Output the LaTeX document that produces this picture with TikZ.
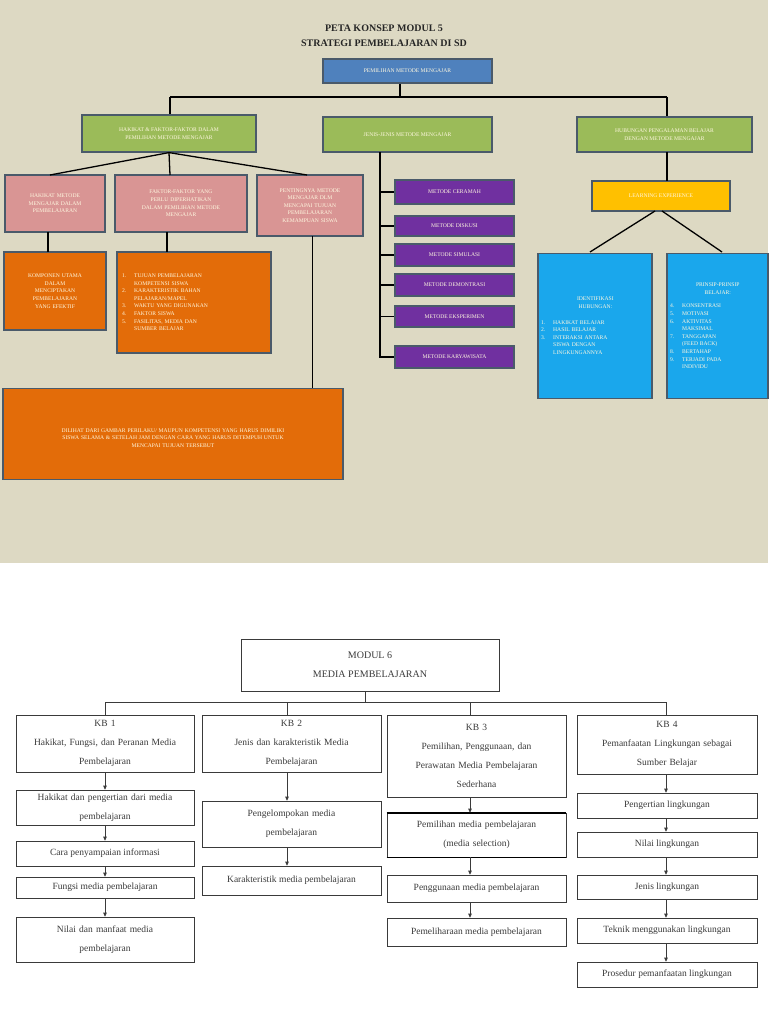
\documentclass[tikz,border=0pt]{standalone}
\usepackage{fontspec}
\setmainfont{Liberation Serif}
\usetikzlibrary{arrows.meta}
\definecolor{bgc}{HTML}{DDD9C3}
\definecolor{bluebox}{HTML}{4F81BD}
\definecolor{greenbox}{HTML}{9BBB59}
\definecolor{pinkbox}{HTML}{D99594}
\definecolor{orangebox}{HTML}{E36C09}
\definecolor{purplebox}{HTML}{7030A0}
\definecolor{yellowbox}{HTML}{FFC000}
\definecolor{cyanbox}{HTML}{1AA7EC}
\definecolor{edgec}{HTML}{4A5A6A}
\definecolor{txt}{HTML}{FFF8E0}
\definecolor{gtxt}{HTML}{3A3A3A}
\tikzset{
  cbox/.style={draw=edgec, line width=1.2pt, inner sep=2pt, text=txt, font=\fontsize{5.6}{7.6}\selectfont, align=center},
  wbox/.style={draw=gtxt, line width=0.6pt, fill=white, inner sep=2pt, text=gtxt, font=\fontsize{9.5}{19}\selectfont, align=center},
  conn/.style={line width=1.3pt, black},
  thin/.style={line width=0.7pt, gtxt},
  arr/.style={thin, -{Triangle[length=4pt,width=3.5pt]}}
}
\begin{document}
\begin{tikzpicture}[x=1pt,y=-1pt]
\useasboundingbox (0,0) rectangle (768,1024);
\fill[white] (0,0) rectangle (768,1024);
\fill[bgc] (0,0) rectangle (768,563);
% title
\node[font=\bfseries\fontsize{10}{15}\selectfont, align=center, text=black!85] (title) at (384,36) {PETA KONSEP MODUL 5\\STRATEGI PEMBELAJARAN DI SD};
% top-level
\node[cbox, fill=bluebox, minimum width=169, minimum height=24] (root) at (407.5,71) {PEMILIHAN METODE MENGAJAR};
\node[cbox, fill=greenbox, minimum width=174, minimum height=37] (g1) at (169,133.5) {HAKIKAT \& FAKTOR-FAKTOR DALAM\\PEMILIHAN METODE MENGAJAR};
\node[cbox, fill=greenbox, minimum width=169, minimum height=35] (g2) at (407.5,134.5) {JENIS-JENIS METODE MENGAJAR};
\node[cbox, fill=greenbox, minimum width=175, minimum height=35] (g3) at (664.5,134.5) {HUBUNGAN PENGALAMAN BELAJAR\\DENGAN METODE MENGAJAR};
\coordinate (h) at (400,97);
\draw[conn] (root.south -| h) -- (h);
\draw[conn] (170,97) -- (667,97);
\draw[conn] (170,97) -- (g1.north -| 170,0);
\draw[conn] (667,97) -- (g3.north -| 667,0);
% pink
\node[cbox, fill=pinkbox, minimum width=100, minimum height=57, text width=90] (p1) at (55,203.5) {HAKIKAT METODE\\MENGAJAR DALAM\\PEMBELAJARAN};
\node[cbox, fill=pinkbox, minimum width=132, minimum height=57, text width=122] (p2) at (181,203.5) {FAKTOR-FAKTOR YANG\\PERLU DIPERHATIKAN\\DALAM PEMILIHAN METODE\\MENGAJAR};
\node[cbox, fill=pinkbox, minimum width=106, minimum height=61, text width=100] (p3) at (310,205.5) {PENTINGNYA METODE\\MENGAJAR DLM\\MENCAPAI TUJUAN\\PEMBELAJARAN\\KEMAMPUAN SISWA};
\draw[conn] (g1.south) -- (50,175);
\draw[conn] (g1.south) -- (170,175);
\draw[conn] (g1.south) -- (307,175);
% orange
\node[cbox, fill=orangebox, minimum width=102, minimum height=78, text width=92] (o1) at (55,291) {KOMPONEN UTAMA\\DALAM\\MENCIPTAKAN\\PEMBELAJARAN\\YANG EFEKTIF};
\node[cbox, fill=orangebox, minimum width=154, minimum height=101, align=left, text width=144] (o2) at (194,302.5) {\begin{tabular}{@{}l@{\hspace{8pt}}l@{}}
1.&TUJUAN PEMBELAJARAN\\&KOMPETENSI SISWA\\2.&KARAKTERISTIK BAHAN\\&PELAJARAN/MAPEL\\3.&WAKTU YANG DIGUNAKAN\\4.&FAKTOR SISWA\\5.&FASILITAS, MEDIA DAN\\&SUMBER BELAJAR\end{tabular}};
\draw[conn] (48,232) -- (48,252);
\draw[conn] (167,232) -- (167,252);
\node[cbox, fill=orangebox, minimum width=340, minimum height=91, text width=325, anchor=north] (o3) at (173,388) {\\[4pt]DILIHAT DARI GAMBAR PERILAKU/ MAUPUN KOMPETENSI YANG HARUS DIMILIKI\\SISWA SELAMA \& SETELAH JAM DENGAN CARA YANG HARUS DITEMPUH UNTUK\\MENCAPAI TUJUAN TERSEBUT\\[22pt]};
\draw[line width=0.8pt] (312,236) -- (312,388);
% purple
\foreach \n/\y/\hh/\t in {c1/192/24/METODE CERAMAH, c2/226/20/METODE DISKUSI, c3/255/22/METODE SIMULASI, c4/285/22/METODE DEMONTRASI, c5/316.5/21/METODE EKSPERIMEN, c6/357/22/METODE KARYAWISATA}{
  \node[cbox, fill=purplebox, minimum width=119, minimum height=\hh] (\n) at (454.5,\y) {\t};
  \draw[conn] (380,\y) -- (\n.west);
}
\draw[conn] (380,152) -- (380,358);
% right
\node[cbox, fill=yellowbox, minimum width=138, minimum height=30] (y1) at (661,196) {LEARNING EXPERIENCE};
\draw[conn] (667,152) -- (667,181);
\node[cbox, fill=cyanbox, minimum width=114, minimum height=145, anchor=north, align=left, text width=108] (b1) at (595,253) {\begin{tabular}{@{}l@{\hspace{8pt}}l@{}}
\multicolumn{2}{c}{\hspace{30pt}IDENTIFIKASI}\\\multicolumn{2}{c}{\hspace{30pt}HUBUNGAN:}\\[8pt]
1.&HAKIKAT BELAJAR\\2.&HASIL BELAJAR\\3.&INTERAKSI ANTARA\\&SISWA DENGAN\\&LINGKUNGANNYA\end{tabular}\\[22pt]};
\node[cbox, fill=cyanbox, minimum width=101, minimum height=145, anchor=north, align=left, text width=95] (b2) at (717.5,253) {\begin{tabular}{@{}l@{\hspace{8pt}}l@{}}
\multicolumn{2}{c}{\hspace{20pt}PRINSIP-PRINSIP}\\\multicolumn{2}{c}{\hspace{20pt}BELAJAR:}\\[6pt]
4.&KONSENTRASI\\5.&MOTIVASI\\6.&AKTIVITAS\\&MAKSIMAL\\7.&TANGGAPAN\\&(FEED BACK)\\8.&BERTAHAP\\9.&TERJADI PADA\\&INDIVIDU\end{tabular}};
\draw[conn] (655,211) -- (590,252);
\draw[conn] (662,211) -- (722,252);
% ---------- bottom ----------
\node[wbox, minimum width=258, minimum height=52, font=\fontsize{10}{19}\selectfont] (m6) at (370,665) {MODUL 6\\MEDIA  PEMBELAJARAN};
\draw[thin] (365,691) -- (365,702);
\draw[thin] (105,702) -- (666,702);
\node[wbox, minimum width=178, minimum height=57, text width=172] (k1) at (105,743.5) {KB 1\\Hakikat, Fungsi, dan Peranan Media\\Pembelajaran};
\node[wbox, minimum width=179, minimum height=57, text width=172] (k2) at (291.5,743.5) {KB 2\\Jenis dan karakteristik Media\\Pembelajaran};
\node[wbox, minimum width=179, minimum height=82, text width=172] (k3) at (476.5,756) {KB 3\\Pemilihan, Penggunaan, dan\\Perawatan Media Pembelajaran\\Sederhana};
\node[wbox, minimum width=180, minimum height=59, text width=172] (k4) at (667,744.5) {KB 4\\Pemanfaatan Lingkungan sebagai\\Sumber Belajar};
\foreach \x/\k in {105/k1,287/k2,470/k3,666/k4}{\draw[thin] (\x,702) -- (\x,715);}
% KB1
\node[wbox, minimum width=178, minimum height=35, text width=172] (a1) at (105,807.5) {Hakikat dan pengertian dari media\\pembelajaran};
\node[wbox, minimum width=178, minimum height=25] (a2) at (105,853.5) {Cara penyampaian informasi};
\node[wbox, minimum width=178, minimum height=21] (a3) at (105,887.5) {Fungsi media pembelajaran};
\node[wbox, minimum width=178, minimum height=45, text width=172] (a4) at (105,939.5) {Nilai dan manfaat media\\pembelajaran};
\draw[arr] (k1.south -| 105,0) -- (a1.north -| 105,0);
\draw[arr] (a1.south -| 105,0) -- (a2.north -| 105,0);
\draw[arr] (a2.south -| 105,0) -- (a3.north -| 105,0);
\draw[arr] (a3.south -| 105,0) -- (a4.north -| 105,0);
% KB2
\node[wbox, minimum width=179, minimum height=46, text width=172] (b21) at (291.5,824) {Pengelompokan media\\pembelajaran};
\node[wbox, minimum width=179, minimum height=29] (b22) at (291.5,880.5) {Karakteristik media pembelajaran};
\draw[arr] (k2.south -| 287,0) -- (b21.north -| 287,0);
\draw[arr] (b21.south -| 287,0) -- (b22.north -| 287,0);
% KB3
\node[wbox, minimum width=179, minimum height=44, text width=172] (c31) at (476.5,835) {Pemilihan media pembelajaran\\(media selection)};
\draw[line width=1.6pt, black] (c31.north west) -- (c31.north east) (c31.south west) -- (c31.south east);
\node[wbox, minimum width=179, minimum height=27] (c32) at (476.5,888.5) {Penggunaan media pembelajaran};
\node[wbox, minimum width=179, minimum height=28] (c33) at (476.5,932) {Pemeliharaan media pembelajaran};
\draw[arr] (k3.south -| 470,0) -- (c31.north -| 470,0);
\draw[arr] (c31.south -| 470,0) -- (c32.north -| 470,0);
\draw[arr] (c32.south -| 470,0) -- (c33.north -| 470,0);
% KB4
\node[wbox, minimum width=180, minimum height=25] (d1) at (667,805.5) {Pengertian lingkungan};
\node[wbox, minimum width=180, minimum height=25] (d2) at (667,844.5) {Nilai lingkungan};
\node[wbox, minimum width=180, minimum height=24] (d3) at (667,887) {Jenis lingkungan};
\node[wbox, minimum width=180, minimum height=25] (d4) at (667,930.5) {Teknik menggunakan lingkungan};
\node[wbox, minimum width=180, minimum height=25] (d5) at (667,974.5) {Prosedur pemanfaatan lingkungan};
\draw[arr] (k4.south -| 666,0) -- (d1.north -| 666,0);
\draw[arr] (d1.south -| 666,0) -- (d2.north -| 666,0);
\draw[arr] (d2.south -| 666,0) -- (d3.north -| 666,0);
\draw[arr] (d3.south -| 666,0) -- (d4.north -| 666,0);
\draw[arr] (d4.south -| 666,0) -- (d5.north -| 666,0);
\end{tikzpicture}
\end{document}
